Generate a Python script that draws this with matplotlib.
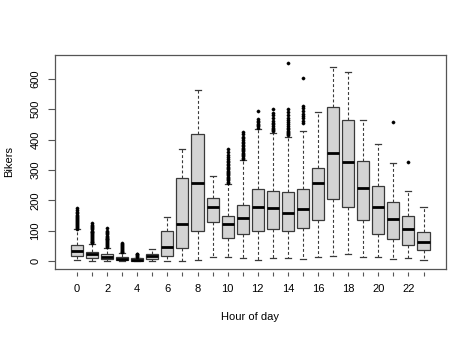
import matplotlib
matplotlib.use("Agg")
import matplotlib.pyplot as plt

hours = list(range(24))
x_tick_labels = [str(h) if h % 2 == 0 else "" for h in hours]
y_ticks = [0, 100, 200, 300, 400, 500, 600]

medians = [33, 22, 13, 7, 4, 15, 47, 121, 256, 178, 121, 141, 178, 176, 159, 171,
           256, 355, 325, 241, 177, 138, 107, 63]
q1s = [17, 11, 5, 2, 1, 5, 18, 42, 100, 127, 75, 88, 99, 107, 100, 108,
       135, 204, 177, 135, 89, 73, 53, 36]
q3s = [53, 31, 22, 12, 9, 22, 99, 272, 419, 209, 148, 185, 237, 232, 229, 236,
       306, 507, 464, 330, 247, 196, 147, 95]
whisk_lo = [2, 1, 1, 1, 1, 1, 1, 1, 3, 14, 12, 11, 3, 11, 11, 5,
            13, 15, 23, 12, 13, 8, 10, 3]
whisk_hi = [104, 55, 44, 25, 11, 40, 146, 369, 564, 280, 254, 333, 436, 423, 410, 430,
            492, 639, 622, 465, 386, 324, 232, 179]
outliers = {
    0: [107, 110, 113, 116, 119, 122, 125, 128, 131, 134, 137, 141, 145, 149, 153, 157, 162, 168, 176],
    1: [58, 61, 64, 67, 70, 73, 76, 79, 82, 85, 88, 91, 94, 97, 100, 104, 108, 112, 116, 120, 125],
    2: [47, 50, 53, 56, 59, 62, 65, 68, 71, 74, 77, 80, 84, 88, 92, 96, 100, 108],
    3: [28, 31, 34, 37, 40, 43, 46, 49, 52, 56, 60],
    4: [13, 16, 19, 22, 24],
    10: [258, 262, 266, 270, 274, 278, 282, 286, 290, 294, 298, 302, 306, 310, 315, 320,
         325, 330, 336, 342, 350, 358, 368],
    11: [337, 341, 345, 349, 353, 357, 361, 365, 369, 373, 378, 383, 388, 393, 398, 404,
         410, 417, 426],
    12: [440, 444, 448, 452, 457, 462, 468, 495],
    13: [427, 431, 435, 440, 445, 450, 456, 462, 470, 480, 488, 500],
    14: [414, 418, 422, 426, 430, 435, 440, 446, 452, 458, 464, 472, 480, 490, 500, 654],
    15: [454, 462, 470, 478, 486, 494, 503, 512, 602],
    21: [457],
    22: [326],
}

FONT = "Liberation Sans"
FS = 8.0
plt.rcParams["font.family"] = [FONT, "DejaVu Sans"]
plt.rcParams["font.size"] = FS

fig = plt.figure(figsize=(4.74, 3.38), dpi=100)
ax = fig.add_axes([55 / 474, 1 - 269 / 338, (445.5 - 55) / 474, (269 - 55) / 338])

stats = []
for i, h in enumerate(hours):
    stats.append(dict(med=medians[i], q1=q1s[i], q3=q3s[i], whislo=whisk_lo[i],
                      whishi=whisk_hi[i], fliers=outliers.get(h, []), label=str(h)))

edge = "#3a3a3a"
ax.bxp(stats, positions=hours, widths=0.8, capwidths=0.4, patch_artist=True,
       boxprops=dict(facecolor="#d3d3d3", edgecolor=edge, linewidth=0.9),
       medianprops=dict(color="black", linewidth=2.0, solid_capstyle="butt"),
       whiskerprops=dict(color=edge, linewidth=0.8, linestyle=(0, (2.6, 2.0))),
       capprops=dict(color=edge, linewidth=0.9),
       flierprops=dict(marker="o", markersize=2.3, markerfacecolor="black",
                       markeredgecolor="black", markeredgewidth=0.3, linestyle="none"))

ax.set_xlim(-1.46, 24.46)
ax.set_ylim(-26.4, 679)

ax.set_xticks(hours)
ax.set_xticklabels(x_tick_labels)
ax.set_yticks(y_ticks)
ax.set_yticklabels([str(v) for v in y_ticks], rotation=90, va="center")

for s in ["left", "top", "right"]:
    ax.spines[s].set_color("#555555")
    ax.spines[s].set_linewidth(0.9)
ax.spines["bottom"].set_position(("outward", 2.0))
ax.spines["bottom"].set_visible(False)
ax.plot([0, 1], [0, 0], transform=ax.transAxes, color="#555555", lw=0.9, clip_on=False)

ax.tick_params(axis="x", direction="out", length=3.0, width=0.8, color="#555555",
               pad=6.0, labelsize=FS)
ax.tick_params(axis="y", direction="out", length=5.0, width=0.8, color="#555555",
               pad=5.5, labelsize=FS)

fig.text(9 / 474, 1 - 161.7 / 338, "Bikers", rotation=90, ha="center", va="center", fontsize=FS)
fig.text((55 + 445.5) / 2 / 474, 1 - 316.7 / 338, "Hour of day", ha="center", va="center", fontsize=FS)

fig.savefig("out.png", dpi=100)
